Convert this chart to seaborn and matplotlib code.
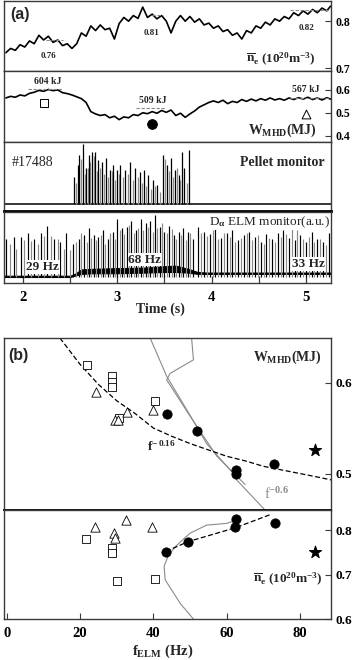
import numpy as np
import pandas as pd
import matplotlib
matplotlib.use("Agg")
import matplotlib.pyplot as plt
import seaborn as sns

# ---------------- data: panel (a) ----------------
t_trace = [1.82, 1.87, 1.92, 1.97, 2.02, 2.07, 2.12, 2.17, 2.22, 2.27, 2.32, 2.37, 2.42, 2.47,
           2.52, 2.57, 2.62, 2.67, 2.72, 2.77, 2.82, 2.87, 2.92, 2.97, 3.02, 3.07, 3.12, 3.17,
           3.22, 3.27, 3.32, 3.37, 3.42, 3.47, 3.52, 3.57, 3.62, 3.67, 3.72, 3.77, 3.82, 3.87,
           3.92, 3.97, 4.02, 4.07, 4.12, 4.17, 4.22, 4.27, 4.32, 4.37, 4.42, 4.47, 4.52, 4.57,
           4.62, 4.67, 4.72, 4.77, 4.82, 4.87, 4.92, 4.97, 5.02, 5.07, 5.12, 5.17, 5.22, 5.26]
ne_trace = [0.733, 0.742, 0.738, 0.750, 0.745, 0.758, 0.752, 0.770, 0.760, 0.768, 0.755, 0.760,
            0.748, 0.752, 0.742, 0.752, 0.775, 0.768, 0.790, 0.780, 0.792, 0.782, 0.785, 0.762,
            0.795, 0.808, 0.800, 0.812, 0.806, 0.830, 0.808, 0.815, 0.805, 0.812, 0.800, 0.775,
            0.800, 0.812, 0.800, 0.810, 0.798, 0.805, 0.792, 0.796, 0.785, 0.790, 0.778, 0.782,
            0.770, 0.775, 0.762, 0.780, 0.775, 0.790, 0.785, 0.798, 0.792, 0.805, 0.800, 0.810,
            0.805, 0.818, 0.812, 0.822, 0.815, 0.825, 0.818, 0.828, 0.822, 0.832]
w_trace = [0.565, 0.572, 0.568, 0.578, 0.574, 0.585, 0.590, 0.598, 0.594, 0.602, 0.597, 0.600,
           0.588, 0.584, 0.578, 0.570, 0.562, 0.545, 0.505, 0.495, 0.488, 0.492, 0.478, 0.485,
           0.470, 0.482, 0.478, 0.492, 0.488, 0.500, 0.496, 0.505, 0.498, 0.510, 0.502, 0.512,
           0.488, 0.498, 0.480, 0.495, 0.508, 0.525, 0.535, 0.545, 0.552, 0.545, 0.555, 0.540,
           0.550, 0.545, 0.558, 0.550, 0.560, 0.552, 0.562, 0.555, 0.565, 0.556, 0.562, 0.555,
           0.565, 0.558, 0.566, 0.560, 0.568, 0.558, 0.565, 0.556, 0.566, 0.560]

# averaged levels (gray dashed) and their labels
ne_avg_t0 = [2.24, 3.37, 4.83]
ne_avg_t1 = [2.42, 3.49, 5.25]
ne_avg_lv = [0.761, 0.813, 0.823]
ne_avg_lab = ["0.76", "0.81", "0.82"]
ne_lab_t = [2.27, 3.36, 5.01]
ne_lab_y = [0.726, 0.774, 0.785]

w_avg_t0 = [2.05, 3.20, 4.83]
w_avg_t1 = [2.42, 3.52, 5.25]
w_avg_lv = [0.606, 0.519, 0.563]
w_avg_lab = ["604 kJ", "509 kJ", "567 kJ"]
w_lab_t = [2.26, 3.38, 5.00]
w_lab_y = [0.638, 0.555, 0.603]

# shot symbols in W panel
sym_t = [2.22, 3.37, 5.00]
sym_w = [0.542, 0.451, 0.494]

# pellet monitor spikes
pel_t_black = [2.545, 2.58, 2.60, 2.637, 2.672, 2.70, 2.73, 2.767, 2.80, 2.84, 2.88, 2.92, 2.96,
               3.00, 3.03, 3.085, 3.14, 3.19, 3.24, 3.28, 3.33, 3.38, 3.42, 3.49, 3.525, 3.57,
               3.61, 3.65, 3.69, 3.71, 3.765]
pel_h_black = [0.45, 0.65, 0.82, 1.00, 0.60, 0.82, 0.87, 0.87, 0.73, 0.70, 0.77, 0.57, 0.65,
               0.57, 0.65, 0.57, 0.70, 0.60, 0.53, 0.57, 0.48, 0.40, 0.32, 0.82, 0.65, 0.77,
               0.57, 0.48, 0.87, 0.60, 0.90]
pel_t_gray = [2.56, 2.59, 2.62, 2.655, 2.69, 2.715, 2.75, 2.785, 2.82, 2.86, 2.90, 2.94, 2.98,
              3.015, 3.06, 3.11, 3.165, 3.215, 3.26, 3.305, 3.355, 3.40, 3.455, 3.51, 3.545,
              3.59, 3.63, 3.67, 3.74]
pel_h_gray = [0.35, 0.55, 0.75, 0.50, 0.60, 0.70, 0.80, 0.55, 0.60, 0.50, 0.45, 0.55, 0.40,
              0.50, 0.45, 0.50, 0.40, 0.45, 0.35, 0.30, 0.25, 0.30, 0.20, 0.75, 0.55, 0.45,
              0.60, 0.40, 0.35]

# D-alpha ELM monitor spikes
elm_t_black = [1.825, 1.910, 1.981, 2.051, 2.115, 2.192, 2.256, 2.333, 2.397, 2.460, 2.531, 2.591,
               2.65, 2.70, 2.75, 2.80, 2.85, 2.90, 2.95, 3.00, 3.05, 3.10, 3.15, 3.20, 3.25, 3.30,
               3.35, 3.40, 3.45, 3.50, 3.55, 3.60, 3.65, 3.70, 3.75, 3.80,
               3.86, 3.92, 3.98, 4.04, 4.10, 4.16, 4.22, 4.28, 4.34, 4.40, 4.46, 4.52, 4.58,
               4.64, 4.70, 4.76, 4.82, 4.88, 4.94, 5.00, 5.06, 5.12, 5.18, 5.24]
elm_h_black = [0.61, 0.64, 0.63, 0.70, 0.61, 0.70, 0.81, 0.61, 0.56, 0.69, 0.53, 0.61,
               0.66, 0.77, 0.67, 0.64, 0.75, 0.61, 0.72, 0.92, 0.77, 0.80, 0.88, 0.75, 0.92, 0.86,
               0.89, 0.98, 0.80, 0.72, 0.81, 0.67, 0.72, 0.77, 0.72, 0.61,
               0.80, 0.72, 0.68, 0.78, 0.62, 0.70, 0.75, 0.58, 0.66, 0.72, 0.64, 0.55, 0.68,
               0.60, 0.70, 0.74, 0.62, 0.58, 0.66, 0.56, 0.72, 0.60, 0.55, 0.70]
elm_t_gray = [1.861, 1.931, 2.016, 2.086, 2.157, 2.220, 2.298, 2.369, 2.432, 2.496, 2.566, 2.619,
              2.675, 2.725, 2.775, 2.825, 2.875, 2.925, 2.975, 3.025, 3.075, 3.125, 3.175, 3.225,
              3.275, 3.325, 3.375, 3.425, 3.475, 3.525, 3.575, 3.625, 3.675, 3.725, 3.775,
              3.89, 3.95, 4.01, 4.07, 4.13, 4.19, 4.25, 4.31, 4.37, 4.43, 4.49, 4.55, 4.61,
              4.67, 4.73, 4.79, 4.85, 4.91, 4.97, 5.03, 5.09, 5.15, 5.21]
elm_h_gray = [0.53, 0.45, 0.58, 0.57, 0.52, 0.65, 0.65, 0.60, 0.44, 0.42, 0.56, 0.69,
              0.55, 0.62, 0.58, 0.66, 0.52, 0.70, 0.60, 0.75, 0.68, 0.82, 0.70, 0.78,
              0.74, 0.80, 0.72, 0.77, 0.85, 0.70, 0.76, 0.60, 0.66, 0.58, 0.70,
              0.70, 0.65, 0.74, 0.60, 0.69, 0.64, 0.55, 0.62, 0.70, 0.58, 0.66, 0.52, 0.62,
              0.56, 0.64, 0.68, 0.80, 0.75, 0.60, 0.64, 0.55, 0.60, 0.50]
elm_base_t = [1.80, 2.50, 2.55, 2.62, 2.75, 3.00, 3.30, 3.50, 3.62, 3.75, 3.85, 3.95, 4.50, 5.26]
elm_base_lo = [0.00, 0.00, 0.02, 0.05, 0.06, 0.06, 0.07, 0.08, 0.08, 0.07, 0.05, 0.05, 0.05, 0.05]
elm_base_hi = [0.02, 0.02, 0.05, 0.12, 0.13, 0.14, 0.15, 0.17, 0.18, 0.13, 0.08, 0.07, 0.07, 0.07]

# ---------------- data: panel (b) ----------------
sq_f_w = [21.8, 28.7, 28.7, 28.7, 40.4, 30.6]
sq_w = [0.619, 0.607, 0.601, 0.595, 0.580, 0.561]
tri_f_w = [24.4, 39.8, 32.7, 29.5, 30.3]
tri_w = [0.590, 0.570, 0.568, 0.559, 0.559]
dot_f_w = [43.6, 51.9, 62.4, 62.5, 72.9]
dot_w = [0.566, 0.547, 0.504, 0.500, 0.510]
star_f_w = [84.1]
star_w = [0.526]

fit16_f = [14.5, 20.0, 25.0, 30.0, 35.0, 40.0, 45.0, 50.0, 55.0, 60.0, 65.0, 70.0, 75.0, 80.0, 85.0, 88.5]
fit16_w = [0.649, 0.620, 0.598, 0.580, 0.566, 0.550, 0.541, 0.533, 0.526, 0.519, 0.514, 0.508, 0.504, 0.500, 0.496, 0.493]

f06a_f = [39.1, 43.6, 49.1, 54.5, 61.8, 62.7, 70.4]
f06a_w = [0.649, 0.607, 0.570, 0.533, 0.500, 0.493, 0.460]
f06b_f = [50.4, 50.9, 44.5, 43.6, 50.0, 57.3, 65.0]
f06b_w = [0.649, 0.625, 0.610, 0.603, 0.563, 0.519, 0.488]

sq_f_n = [21.6, 28.6, 28.6, 30.2, 40.3]
sq_n = [0.779, 0.759, 0.748, 0.685, 0.689]
tri_f_n = [24.2, 32.5, 39.7, 29.3, 29.6]
tri_n = [0.806, 0.822, 0.807, 0.794, 0.781]
dot_f_n = [43.4, 49.5, 62.4, 62.3, 73.0]
dot_n = [0.751, 0.774, 0.824, 0.806, 0.816]
star_f_n = [84.1]
star_n = [0.751]
dash_f_n = [43.4, 49.5, 62.3, 72.3]
dash_n = [0.752, 0.774, 0.805, 0.836]
gray_f_n = [50.9, 47.3, 43.2, 42.9, 44.1, 46.4, 50.0, 54.5, 60.0, 62.5]
gray_n = [0.600, 0.635, 0.688, 0.718, 0.744, 0.766, 0.793, 0.811, 0.815, 0.822]

# ---------------- style ----------------
sns.set_theme(style="ticks")
plt.rcParams["font.family"] = ["Liberation Serif", "DejaVu Serif"]
plt.rcParams["font.weight"] = "bold"
plt.rcParams["mathtext.fontset"] = "custom"
plt.rcParams["mathtext.rm"] = "Liberation Serif:bold"
plt.rcParams["mathtext.bf"] = "Liberation Serif:bold"
plt.rcParams["mathtext.it"] = "Liberation Serif:italic:bold"
plt.rcParams["mathtext.default"] = "rm"

W, H = 355, 660
fig = plt.figure(figsize=(W / 100, H / 100), dpi=100)


def add_ax(top_px, bot_px):
    return fig.add_axes([4 / W, 1 - bot_px / H, 327 / W, (bot_px - top_px) / H])


SP = "#3a3a3a"
GR = "#8a8a8a"


def frame(ax):
    for s in ax.spines.values():
        s.set_color(SP)
        s.set_linewidth(1.0)
    ax.set_facecolor("white")
    ax.set_xlabel("")
    ax.set_ylabel("")


def right_ticks(ax, ticks, fs=8.5):
    ax.yaxis.tick_right()
    ax.set_yticks(ticks)
    ax.set_yticklabels([f"{v:.1f}" for v in ticks], fontsize=fs, fontweight="bold")
    ax.tick_params(axis="y", direction="in", length=4, width=0.8, colors=SP, pad=3,
                   labelcolor="black")


XL = (1.80, 5.265)

# ---- ne panel
ax_ne = add_ax(1, 71)
sns.lineplot(x=t_trace, y=ne_trace, ax=ax_ne, color="black", lw=1.2, estimator=None)
for a, b, lv in zip(ne_avg_t0, ne_avg_t1, ne_avg_lv):
    sns.lineplot(x=[a, b], y=[lv, lv], ax=ax_ne, color=GR, lw=0.8, linestyle=(0, (3, 1.5)))
for lab, tx, ty in zip(ne_avg_lab, ne_lab_t, ne_lab_y):
    ax_ne.text(tx, ty, lab, fontsize=6.5, ha="center", va="center", fontweight="bold")
ax_ne.set_xlim(XL)
ax_ne.set_ylim(0.694, 0.843)
ax_ne.set_xticks([])
right_ticks(ax_ne, [0.7, 0.8])
ax_ne.text(0.954, 0.16, r"$\overline{\mathrm{n}}_{\mathrm{e}}$ (10$^{20}$m$^{-3}$)", transform=ax_ne.transAxes,
           ha="right", va="center", fontsize=9.5)
ax_ne.text(0.05, 0.80, "(a)", transform=ax_ne.transAxes, ha="center", va="center",
           fontsize=11.5, fontweight="bold", family=["Liberation Sans", "DejaVu Sans"])
frame(ax_ne)

# ---- W panel
ax_w = add_ax(71, 142)
sns.lineplot(x=t_trace, y=w_trace, ax=ax_w, color="black", lw=1.2, estimator=None)
for a, b, lv in zip(w_avg_t0, w_avg_t1, w_avg_lv):
    sns.lineplot(x=[a, b], y=[lv, lv], ax=ax_w, color=GR, lw=0.8, linestyle=(0, (3, 1.5)))
for lab, tx, ty in zip(w_avg_lab, w_lab_t, w_lab_y):
    ax_w.text(tx, ty, lab, fontsize=7, ha="center", va="center", fontweight="bold")
sns.scatterplot(x=[sym_t[0]], y=[sym_w[0]], ax=ax_w, marker="s", s=28, color="white",
                edgecolor="black", linewidth=0.7, zorder=5)
sns.scatterplot(x=[sym_t[1]], y=[sym_w[1]], ax=ax_w, marker="o", s=50, color="black",
                edgecolor="black", zorder=5)
sns.scatterplot(x=[sym_t[2]], y=[sym_w[2]], ax=ax_w, marker="^", s=40, color="white",
                edgecolor="black", linewidth=0.7, zorder=5)
ax_w.set_xlim(XL)
ax_w.set_ylim(0.372, 0.683)
ax_w.set_xticks([])
right_ticks(ax_w, [0.4, 0.5, 0.6])
ax_w.text(0.957, 0.16, r"W$_{\mathrm{MHD}}$(MJ)", transform=ax_w.transAxes,
          ha="right", va="center", fontsize=10)
frame(ax_w)

# ---- pellet panel
ax_p = add_ax(142, 211)
sns.lineplot(x=[XL[0], XL[1]], y=[0.0, 0.0], ax=ax_p, color="black", lw=1.1)
ax_p.vlines(pel_t_gray, 0, pel_h_gray, color=GR, lw=0.9)
ax_p.vlines(pel_t_black, 0, pel_h_black, color="black", lw=0.9)
ax_p.set_xlim(XL)
ax_p.set_ylim(-0.117, 1.033)
ax_p.set_xticks([])
ax_p.set_yticks([])
ax_p.text(0.024, 0.71, "#17488", transform=ax_p.transAxes, ha="left", va="center", fontsize=10,
          fontweight="normal")
ax_p.text(0.982, 0.71, "Pellet monitor", transform=ax_p.transAxes, ha="right", va="center",
          fontsize=10)
frame(ax_p)
ax_p.spines["bottom"].set_linewidth(2.0)
ax_p.spines["bottom"].set_color("black")

# ---- ELM panel
ax_e = add_ax(212, 283)
ax_e.fill_between(elm_base_t, elm_base_lo, elm_base_hi, color="black", lw=0.8)
ax_e.vlines(elm_t_gray, 0, elm_h_gray, color=GR, lw=0.85)
ax_e.vlines(elm_t_black, 0, elm_h_black, color="black", lw=0.85)
ax_e.set_xlim(XL)
ax_e.set_ylim(-0.095, 1.03)
ax_e.set_yticks([])
ax_e.set_xticks([2, 3, 4, 5])
ax_e.set_xticks([2.5, 3.5, 4.5], minor=True)
ax_e.set_xticklabels(["2", "3", "4", "5"], fontsize=10.5, fontweight="bold")
ax_e.tick_params(axis="x", which="both", direction="in", length=5, width=0.9, colors=SP,
                 labelcolor="black", pad=6)
bb = dict(facecolor="white", edgecolor="none", pad=0.6)
ax_e.text(0.119, 0.225, "29 Hz", transform=ax_e.transAxes, ha="center", va="center",
          fontsize=9.5, bbox=bb)
ax_e.text(0.431, 0.33, "68 Hz", transform=ax_e.transAxes, ha="center", va="center",
          fontsize=9.5, bbox=bb)
ax_e.text(0.930, 0.27, "33 Hz", transform=ax_e.transAxes, ha="center", va="center",
          fontsize=9.5, bbox=bb)
ax_e.text(0.997, 0.86, r"D$_{\alpha}$ ELM monitor(a.u.)", transform=ax_e.transAxes,
          ha="right", va="center", fontsize=9.5, fontweight="normal",
          bbox=dict(facecolor="white", edgecolor="none", pad=0.3))
frame(ax_e)
fig.text(160 / W, 1 - 309 / H, "Time (s)", ha="center", va="center", fontsize=10)

# ---------------- panel (b) ----------------
XB = (-0.74, 88.4)
ax_bw = add_ax(338, 510)
sns.lineplot(x=f06a_f, y=f06a_w, ax=ax_bw, color=GR, lw=0.8, sort=False, estimator=None)
sns.lineplot(x=f06b_f, y=f06b_w, ax=ax_bw, color=GR, lw=0.8, sort=False, estimator=None)
sns.lineplot(x=fit16_f, y=fit16_w, ax=ax_bw, color="black", lw=0.9, linestyle=(0, (4, 2)))
sns.scatterplot(x=sq_f_w, y=sq_w, ax=ax_bw, marker="s", s=26, color="white",
                edgecolor="black", linewidth=0.6, zorder=5)
sns.scatterplot(x=tri_f_w, y=tri_w, ax=ax_bw, marker="^", s=45, color="white",
                edgecolor="black", linewidth=0.6, zorder=5)
sns.scatterplot(x=dot_f_w, y=dot_w, ax=ax_bw, marker="o", s=45, color="black",
                edgecolor="black", zorder=6)
sns.scatterplot(x=star_f_w, y=star_w, ax=ax_bw, marker="*", s=85, color="black",
                edgecolor="black", zorder=6)
ax_bw.set_xlim(XB)
ax_bw.set_ylim(0.46, 0.649)
ax_bw.set_xticks([])
right_ticks(ax_bw, [0.5, 0.6], fs=9.5)
ax_bw.text(0.972, 0.89, r"W$_{\mathrm{MHD}}$(MJ)", transform=ax_bw.transAxes, ha="right",
           va="center", fontsize=10)
ax_bw.text(0.043, 0.90, "(b)", transform=ax_bw.transAxes, ha="center", va="center",
           fontsize=11.5, fontweight="bold", family=["Liberation Sans", "DejaVu Sans"])
ax_bw.text(38.3, 0.530, r"f$^{-\,0.16}$", ha="left", va="center", fontsize=9.5)
ax_bw.text(70.0, 0.477, r"f$^{-0.6}$", ha="left", va="center", fontsize=10.5, color=GR,
           fontweight="normal")
frame(ax_bw)
ax_bw.spines["bottom"].set_color("black")
ax_bw.spines["bottom"].set_linewidth(1.3)

ax_bn = add_ax(510, 619)
sns.lineplot(x=gray_f_n, y=gray_n, ax=ax_bn, color=GR, lw=0.8, sort=False, estimator=None)
sns.lineplot(x=dash_f_n, y=dash_n, ax=ax_bn, color="black", lw=0.9, linestyle=(0, (4, 2)))
sns.scatterplot(x=sq_f_n, y=sq_n, ax=ax_bn, marker="s", s=26, color="white",
                edgecolor="black", linewidth=0.6, zorder=5)
sns.scatterplot(x=tri_f_n, y=tri_n, ax=ax_bn, marker="^", s=45, color="white",
                edgecolor="black", linewidth=0.6, zorder=5)
sns.scatterplot(x=dot_f_n, y=dot_n, ax=ax_bn, marker="o", s=45, color="black",
                edgecolor="black", zorder=6)
sns.scatterplot(x=star_f_n, y=star_n, ax=ax_bn, marker="*", s=85, color="black",
                edgecolor="black", zorder=6)
ax_bn.set_xlim(XB)
ax_bn.set_ylim(0.6, 0.845)
right_ticks(ax_bn, [0.6, 0.7, 0.8], fs=9.5)
ax_bn.set_xticks([0, 20, 40, 60, 80])
ax_bn.set_xticklabels(["0", "20", "40", "60", "80"], fontsize=10.5, fontweight="bold")
ax_bn.tick_params(axis="x", direction="in", length=4, width=0.8, colors=SP, labelcolor="black",
                  pad=6)
ax_bn.text(0.869, 0.36, r"$\overline{\mathrm{n}}_{\mathrm{e}}$ (10$^{20}$m$^{-3}$)",
           transform=ax_bn.transAxes, ha="center", va="center", fontsize=9.5)
frame(ax_bn)
fig.text(163 / W, 1 - 651 / H, r"f$_{\mathrm{ELM}}$ (Hz)", ha="center", va="center", fontsize=10.5)

fig.savefig("out.png", dpi=100, facecolor="white")
